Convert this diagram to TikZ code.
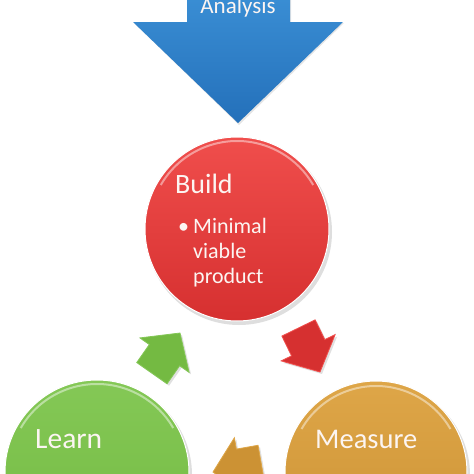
\documentclass[tikz,border=0pt]{standalone}
\usepackage{fontspec}
\setmainfont{Carlito}
\definecolor{blueA}{RGB}{58,142,212}
\definecolor{blueB}{RGB}{36,112,186}
\definecolor{redA}{RGB}{240,78,76}
\definecolor{redB}{RGB}{214,48,48}
\definecolor{greenA}{RGB}{132,200,86}
\definecolor{greenB}{RGB}{116,186,66}
\definecolor{orA}{RGB}{222,166,72}
\definecolor{orB}{RGB}{204,146,52}
\definecolor{txt}{RGB}{252,245,242}
\begin{document}
\begin{tikzpicture}[x=1pt,y=-1pt,
  disc/.style={circle, minimum size=184pt, inner sep=0pt, draw=white, line width=1pt},
  lbl/.style={text=txt, inner sep=0pt, anchor=base west},
  blockarrow/.pic={
    \path[pic actions] (0,0) -- (-27,30) -- (-27,18.5) -- (-49,18.5) -- (-49,-18.5)
      -- (-27,-18.5) -- (-27,-30) -- cycle;
  }]
\useasboundingbox (0,0) rectangle (474,474);
\clip (0,0) rectangle (474,474);
\fill[white] (0,0) rectangle (474,474);

% blue arrow
\fill[black, opacity=0.10] (188,-5) -- (291,-5) -- (291,23) -- (344,23) -- (239,125) -- (134,23) -- (188,23) -- cycle;
\path[top color=blueA, bottom color=blueB] (187,-5) -- (290,-5) -- (290,22) -- (343,22)
  -- (238,123) -- (133,22) -- (187,22) -- cycle;
\node[lbl, anchor=base, font=\fontsize{23}{27}\selectfont] (analysis) at (238,13) {Analysis};

% shadows
\fill[black, opacity=0.13] (239,232) circle (93pt);
\fill[black, opacity=0.13] (99,475) circle (93pt);
\fill[black, opacity=0.13] (378,475) circle (92pt);

% circles
\node[disc, top color=redA, bottom color=redB] (build) at (237,229) {};
\node[disc, top color=greenA, bottom color=greenB] (learn) at (97,472) {};
\node[disc, minimum size=182pt, top color=orA, bottom color=orB] (measure) at (376,472) {};

% glossy rims
\draw[white, opacity=0.45, line width=2pt] (237,229) ++(150:88pt) arc[start angle=150, end angle=30, radius=88pt];
\draw[white, opacity=0.45, line width=2pt] (97,472) ++(150:88pt) arc[start angle=150, end angle=30, radius=88pt];
\draw[white, opacity=0.45, line width=2pt] (376,472) ++(150:86pt) arc[start angle=150, end angle=30, radius=86pt];

% texts
\node[lbl, font=\fontsize{28}{32}\selectfont] (buildt) at (175,193) {Build};
\node[lbl, font=\fontsize{22}{25}\selectfont] (bullet) at (178,233) {•};
\node[lbl, font=\fontsize{22}{25}\selectfont] (l1) at (193,233) {Minimal};
\node[lbl, font=\fontsize{22}{25}\selectfont] (l2) at (193,258) {viable};
\node[lbl, font=\fontsize{22}{25}\selectfont] (l3) at (193,283) {product};
\node[lbl, font=\fontsize{29.5}{33}\selectfont] (learnt) at (35,448) {Learn};
\node[lbl, font=\fontsize{28.5}{32}\selectfont] (measuret) at (315,448) {Measure};

% small arrows
\pic[fill=black, opacity=0.12, shift={(182,335)}, rotate=55] {blockarrow};
\pic[fill=greenB, draw=greenA, line width=0.8pt, shift={(180,333)}, rotate=55] {blockarrow};
\pic[fill=black, opacity=0.12, shift={(322,374)}, rotate=-64] {blockarrow};
\pic[fill=redB, draw=redA, line width=0.8pt, shift={(320,372)}, rotate=-64] {blockarrow};
\pic[fill=black, opacity=0.12, shift={(215,474)}, rotate=190] {blockarrow};
\pic[fill=orB, draw=orA, line width=0.8pt, shift={(213,472)}, rotate=190] {blockarrow};
\end{tikzpicture}
\end{document}
